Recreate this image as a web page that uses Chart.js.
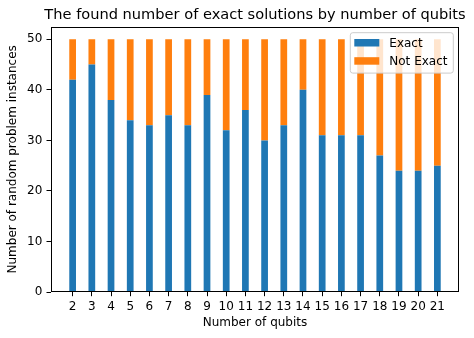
<!DOCTYPE html>
<html>
<head>
<meta charset="utf-8">
<script src="https://cdn.jsdelivr.net/npm/chart.js@4/dist/chart.umd.min.js"></script>
<style>
  html, body { margin: 0; padding: 0; background: #fff; }
  #wrap { width: 474px; height: 338px; }
</style>
</head>
<body>
<div id="wrap"><canvas id="c" width="474" height="338"></canvas></div>
<script>
const qubits = [2, 3, 4, 5, 6, 7, 8, 9, 10, 11, 12, 13, 14, 15, 16, 17, 18, 19, 20, 21];
const exact = [42, 45, 38, 34, 33, 35, 33, 39, 32, 36, 30, 33, 40, 31, 31, 31, 27, 24, 24, 25];
const notExact = [8, 5, 12, 16, 17, 15, 17, 11, 18, 14, 20, 17, 10, 19, 19, 19, 23, 26, 26, 25];
const yTicks = [0, 10, 20, 30, 40, 50];
const seriesLabels = ['Exact', 'Not Exact'];
const seriesColors = ['#1f77b4', '#ff7f0e'];
const titleText = 'The found number of exact solutions by number of qubits';
const xTitle = 'Number of qubits';
const yTitle = 'Number of random problem instances';

Chart.defaults.font.family = '"DejaVu Sans", sans-serif';
Chart.defaults.color = '#000';

// Title centred over the plot area (as matplotlib does), drawn at natural width.
const axesTitlePlugin = {
  id: 'axesTitle',
  afterDraw(chart, args, opts) {
    const { ctx, chartArea: a } = chart;
    ctx.save();
    ctx.font = '14.6px "DejaVu Sans", sans-serif';
    ctx.fillStyle = '#000';
    ctx.textAlign = 'center';
    ctx.textBaseline = 'alphabetic';
    ctx.fillText(opts.text, (a.left + a.right) / 2, a.top - 7.4);
    ctx.restore();
  }
};

const framePlugin = {
  id: 'frame',
  afterDatasetsDraw(chart) {
    const { ctx, chartArea: a } = chart;
    ctx.save();
    ctx.strokeStyle = '#000';
    ctx.lineWidth = 1;
    const l = Math.round(a.left) + 0.5, r = Math.round(a.right) - 0.5;
    const t = Math.round(a.top) + 0.5, b = Math.round(a.bottom) - 0.5;
    ctx.strokeRect(l, t, r - l, b - t);
    ctx.restore();
  }
};

const legendPlugin = {
  id: 'mplLegend',
  afterDraw(chart) {
    const { ctx, chartArea: a } = chart;
    const w = 103, h = 40.4;
    const x = a.right - 6 - w, y = a.top + 6;
    ctx.save();
    ctx.beginPath();
    ctx.roundRect(x, y, w, h, 2.5);
    ctx.fillStyle = 'rgba(255,255,255,0.8)';
    ctx.fill();
    ctx.strokeStyle = '#cccccc';
    ctx.lineWidth = 1;
    ctx.stroke();
    ctx.font = '12px "DejaVu Sans", sans-serif';
    ctx.textBaseline = 'alphabetic';
    ctx.textAlign = 'left';
    chart.data.datasets.forEach((ds, i) => {
      const base = y + 14.3 + i * 18.2;
      ctx.fillStyle = ds.backgroundColor;
      ctx.fillRect(x + 4, base - 8, 25, 7.5);
      ctx.fillStyle = '#000';
      ctx.fillText(ds.label, x + 39, base);
    });
    ctx.restore();
  }
};

new Chart(document.getElementById('c'), {
  type: 'bar',
  data: {
    datasets: [
      { label: seriesLabels[0], data: qubits.map((q, i) => ({ x: q, y: exact[i] })), backgroundColor: seriesColors[0] },
      { label: seriesLabels[1], data: qubits.map((q, i) => ({ x: q, y: notExact[i] })), backgroundColor: seriesColors[1] }
    ]
  },
  options: {
    responsive: false,
    animation: false,
    events: [],
    layout: { padding: { left: 0, right: 14.7, top: 26.7, bottom: 0 } },
    datasets: { bar: { categoryPercentage: 1.0, barPercentage: 0.35, borderWidth: 0 } },
    plugins: {
      legend: { display: false },
      tooltip: { enabled: false },
      title: { display: false },
      axesTitle: { text: titleText }
    },
    scales: {
      x: {
        type: 'linear',
        stacked: true,
        offset: false,
        min: 0.8575,
        max: 22.1425,
        afterBuildTicks: (s) => { s.ticks = qubits.map(v => ({ value: v })); },
        afterFit: (s) => { s.height = 46; },
        ticks: { font: { size: 12 }, color: '#000', padding: 3.5, maxRotation: 0, autoSkip: false },
        grid: { display: true, drawOnChartArea: false, drawTicks: true, tickLength: 4.2, color: '#000', offset: false },
        border: { display: false },
        title: { display: true, text: xTitle, font: { size: 12 }, color: '#000', padding: { top: 0, bottom: 8 } }
      },
      y: {
        stacked: true,
        min: 0,
        max: 52.5,
        afterBuildTicks: (s) => { s.ticks = yTicks.map(v => ({ value: v })); },
        afterFit: (s) => { s.width = 50.7; },
        ticks: { font: { size: 12 }, color: '#000', padding: 4.2 },
        grid: { display: true, drawOnChartArea: false, drawTicks: true, tickLength: 4.2, color: '#000' },
        border: { display: false },
        title: { display: true, text: yTitle, font: { size: 12 }, color: '#000', padding: { top: 6, bottom: 0 } }
      }
    }
  },
  plugins: [framePlugin, legendPlugin, axesTitlePlugin]
});
</script>
</body>
</html>
